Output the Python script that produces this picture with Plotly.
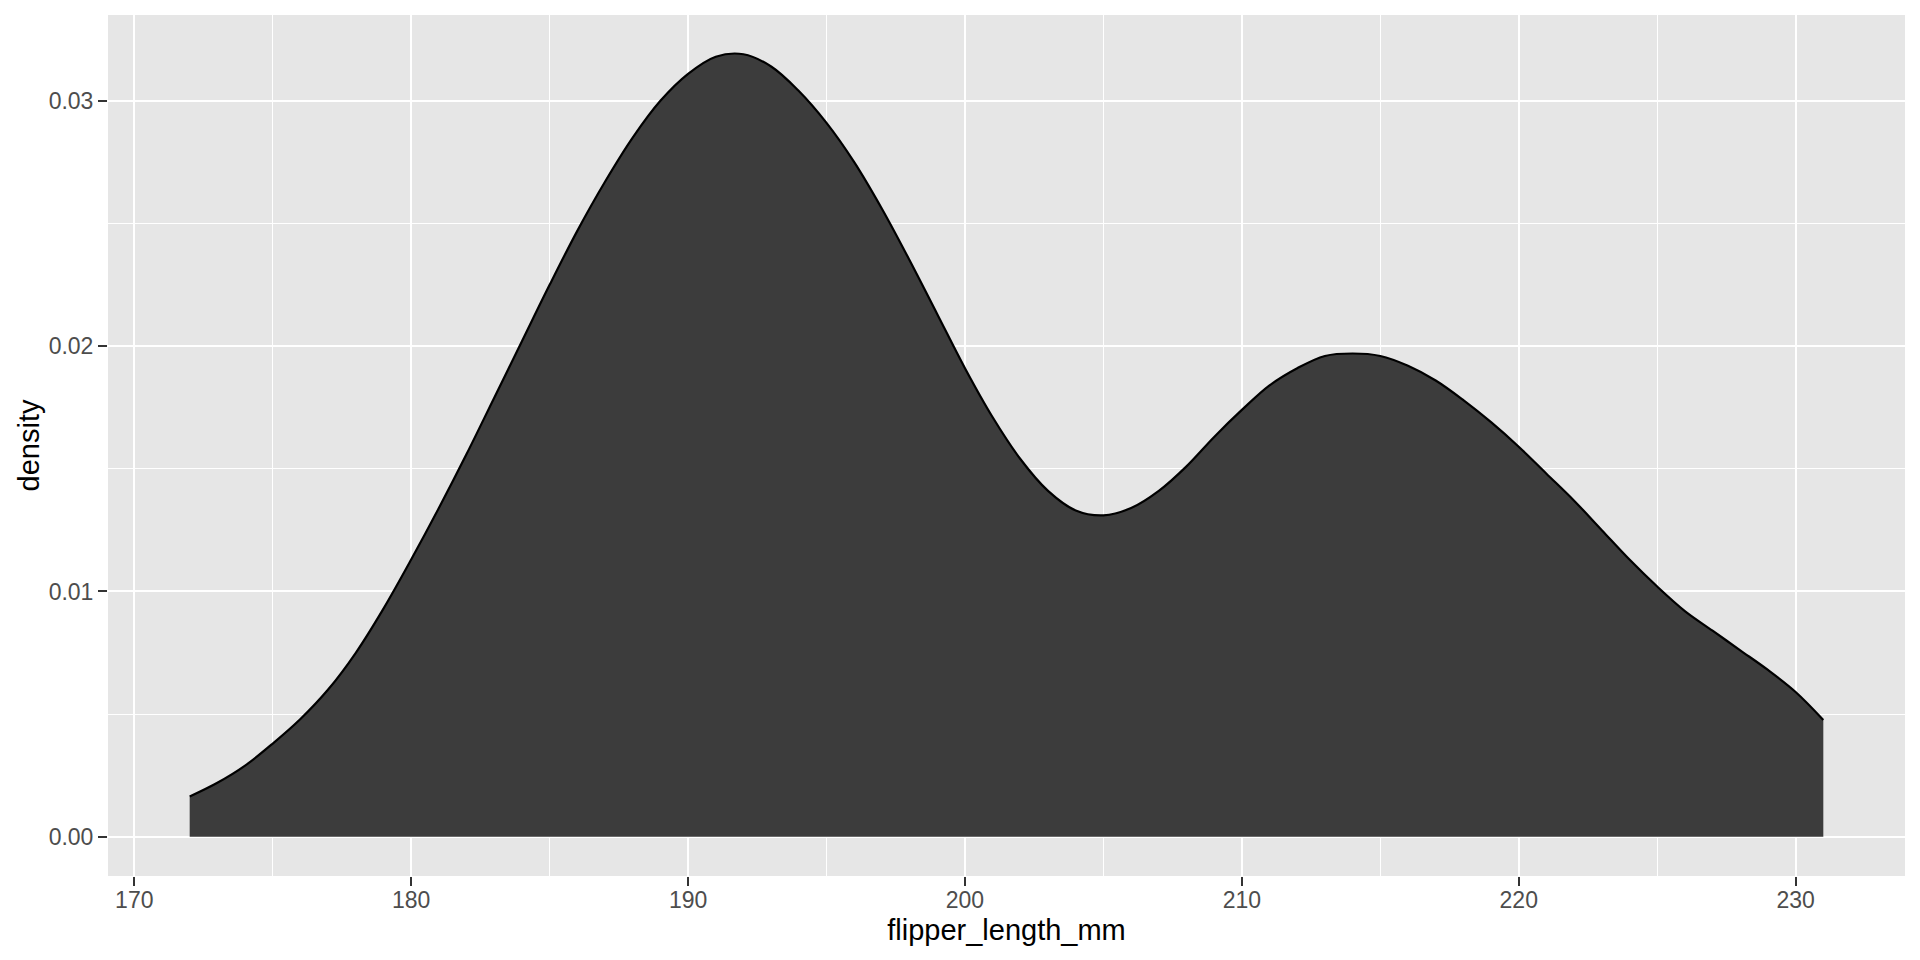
import plotly.graph_objects as go

# density curve of flipper length (one value per mm)
flipper_length_mm = list(range(172, 232))
density = [
    0.00164, 0.0022, 0.0029, 0.0038, 0.0048, 0.0060, 0.0075, 0.0093, 0.0113, 0.0134,  # 172-181
    0.0156, 0.0179, 0.0202, 0.0225, 0.0247, 0.0267, 0.0285, 0.0300, 0.0311, 0.0318,   # 182-191
    0.0319, 0.0314, 0.0304, 0.0291, 0.0275, 0.0256, 0.0235, 0.0213, 0.0191, 0.0171,   # 192-201
    0.0154, 0.0141, 0.0133, 0.0131, 0.0134, 0.0141, 0.0151, 0.0163, 0.0174, 0.0184,   # 202-211
    0.0191, 0.0196, 0.0197, 0.0196, 0.0192, 0.0186, 0.0178, 0.0169, 0.0159, 0.0148,   # 212-221
    0.0137, 0.0125, 0.0113, 0.0102, 0.0092, 0.0084, 0.0076, 0.0068, 0.0059, 0.00476,  # 222-231
]

x_ticks = [170, 180, 190, 200, 210, 220, 230]
y_ticks = [0.00, 0.01, 0.02, 0.03]
y_tick_labels = ["0.00", "0.01", "0.02", "0.03"]

font = "Liberation Sans, Arial, Helvetica, sans-serif"

fig = go.Figure()

# filled area (sides not outlined, like ggplot's outline_type="upper")
fig.add_trace(go.Scatter(
    x=flipper_length_mm, y=density,
    mode="lines", line={"width": 0, "shape": "spline", "smoothing": 1.0},
    fill="tozeroy", fillcolor="#3c3c3c",
    hoverinfo="skip", showlegend=False,
))
# upper outline
fig.add_trace(go.Scatter(
    x=flipper_length_mm, y=density,
    mode="lines", line={"color": "black", "width": 2.2, "shape": "spline", "smoothing": 1.0},
    showlegend=False,
))

# page body has an 8px margin, so the figure is 1904x944
fig.update_layout(
    width=1904, height=944,
    margin={"l": 100, "r": 7, "t": 7, "b": 76},
    paper_bgcolor="white",
    plot_bgcolor="#e6e6e6",
    font={"family": font, "color": "#4d4d4d"},
    xaxis={
        "range": [169.05, 233.95],
        "tickvals": x_ticks,
        "ticks": "outside", "ticklen": 9, "tickwidth": 2.2, "tickcolor": "#333333",
        "tickfont": {"size": 23, "color": "#4d4d4d"},
        "ticklabelstandoff": -6,
        "showgrid": True, "gridcolor": "white", "gridwidth": 2.2,
        "minor": {"tick0": 175, "dtick": 10, "showgrid": True,
                  "gridcolor": "white", "gridwidth": 1.1},
        "zeroline": False, "showline": False,
        "title": {"text": "flipper_length_mm", "font": {"size": 29, "color": "black"},
                  "standoff": 8},
    },
    yaxis={
        "range": [-0.0016, 0.0335],
        "tickvals": y_ticks, "ticktext": y_tick_labels,
        "ticks": "outside", "ticklen": 9, "tickwidth": 2.2, "tickcolor": "#333333",
        "tickfont": {"size": 23, "color": "#4d4d4d"},
        "showgrid": True, "gridcolor": "white", "gridwidth": 2.2,
        "minor": {"tick0": 0.005, "dtick": 0.01, "showgrid": True,
                  "gridcolor": "white", "gridwidth": 1.1},
        "zeroline": False, "showline": False,
        "title": {"text": "density", "font": {"size": 29, "color": "black"},
                  "standoff": 0},
    },
)

fig.write_html("out.html")
